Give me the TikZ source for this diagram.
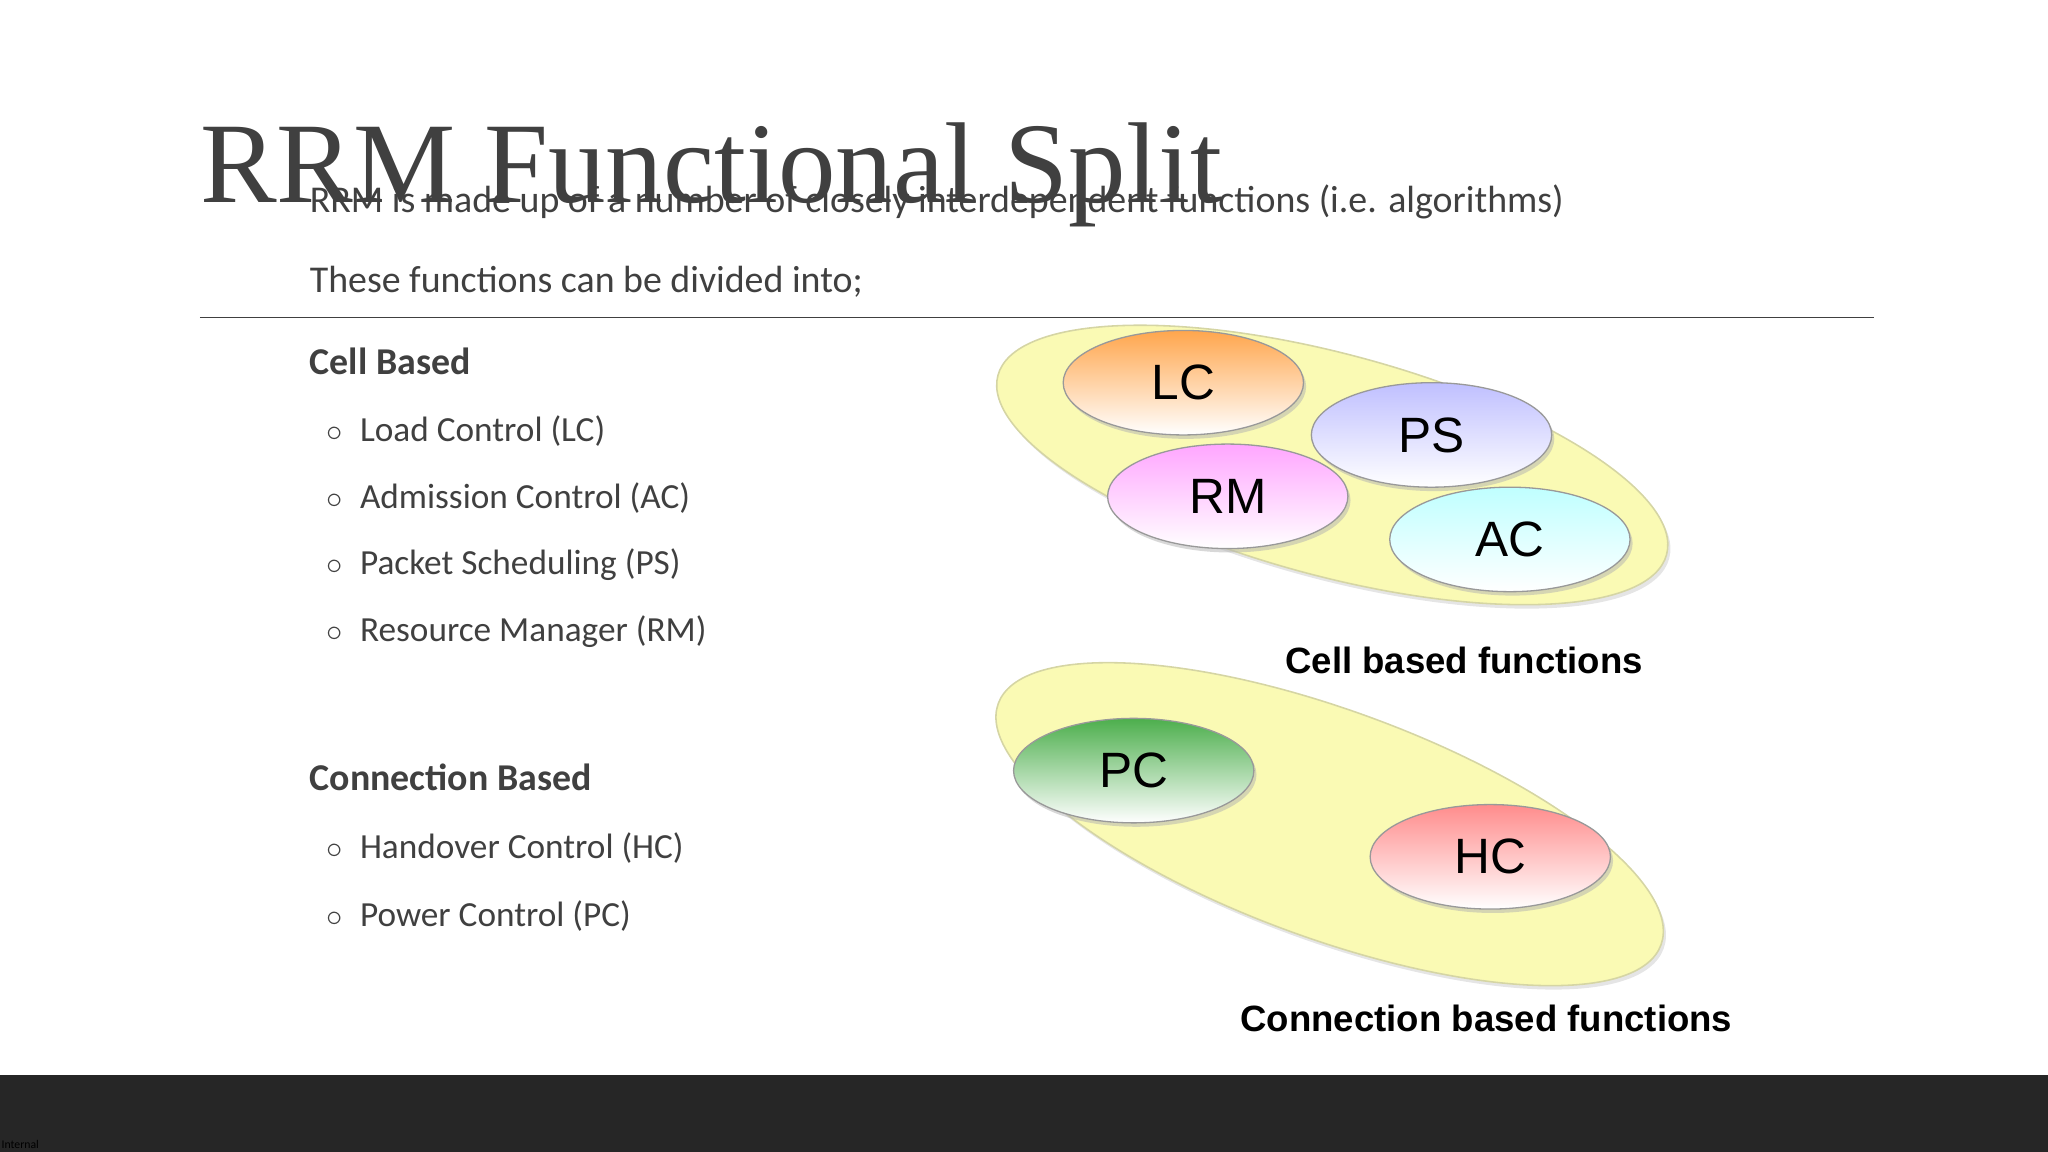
\documentclass[tikz,border=0pt]{standalone}
\usepackage{fontspec}
\setmainfont{Carlito}
\newfontfamily\titlefont{Liberation Serif}
\newfontfamily\labelfont{Liberation Sans}
\usetikzlibrary{shapes.geometric,shadows}
\definecolor{bartone}{HTML}{262626}
\definecolor{bodytone}{HTML}{404040}
\definecolor{cellyellow}{HTML}{FAFAB4}
\tikzset{
  body/.style={anchor=base west,text=bodytone,font=\fontsize{27}{30}\selectfont,inner sep=0},
  head/.style={body,font=\fontsize{29}{32}\selectfont\bfseries},
  group/.style={ellipse,fill=cellyellow,draw=cellyellow!70!gray,line width=1.2pt,
    drop shadow={shadow xshift=2pt,shadow yshift=-3pt,fill=gray!40}},
  func/.style={ellipse,minimum width=184pt,minimum height=80pt,draw=gray!80,line width=1pt,
    bottom color=white,font=\labelfont\fontsize{38}{40}\selectfont,
    drop shadow={shadow xshift=2pt,shadow yshift=-3pt,fill=gray!60}},
  caption/.style={font=\labelfont\bfseries\fontsize{28}{30}\selectfont}
}
\begin{document}
\begin{tikzpicture}[x=1pt,y=-1pt]
  \useasboundingbox (0,0) rectangle (1568,882);
  \fill[bartone] (0,823) rectangle (1568,882);
  \node[anchor=base west,inner sep=0,font=\fontsize{9}{10}\selectfont] (internal) at (1,879) {Internal};
  % title and intro
  \node[anchor=base west,inner sep=0,text=bodytone,font=\titlefont\fontsize{88}{92}\selectfont] (title) at (153,155) {RRM Functional Split};
  \node[body,font=\fontsize{29}{32}\selectfont] (intro1) at (237,163) {RRM is made up of a number of closely interdependent functions (i.e. algorithms)};
  \node[body,font=\fontsize{29}{32}\selectfont] (intro2) at (237,224) {These functions can be divided into;};
  \draw[line width=1.2pt,bodytone] (153,243) -- (1435,243);
  % lists
  \node[head] (cellhead) at (237,287) {Cell Based};
  \foreach \t [count=\i] in {Load Control (LC),Admission Control (AC),Packet Scheduling (PS),Resource Manager (RM)}
    \node[body] (cell\i) at (250,{287+51*\i}) {$\circ$\hspace{13pt}\t};
  \node[head] (connhead) at (237,605) {Connection Based};
  \foreach \t [count=\i] in {Handover Control (HC),Power Control (PC)}
    \node[body] (conn\i) at (250,{605+52*\i}) {$\circ$\hspace{13pt}\t};
  % cell based group
  \node[group,minimum width=530pt,minimum height=170pt,rotate=-15] (cellgrp) at (1020,356) {};
  \node[func,top color=orange!70] (LC) at (906,293) {LC};
  \node[func,top color=blue!25] (PS) at (1096,333) {PS};
  \node[func,top color=magenta!35] (RM) at (940,380) {RM};
  \node[func,top color=cyan!25] (AC) at (1156,413) {AC};
  \node[caption] (cellcap) at (1121,506) {Cell based functions};
  % connection based group
  \node[group,minimum width=540pt,minimum height=175pt,rotate=-20] (conngrp) at (1018,631) {};
  \node[func,top color=green!55!black!70] (PC) at (868,590) {PC};
  \node[func,top color=red!45] (HC) at (1141,656) {HC};
  \node[caption] (conncap) at (1138,780) {Connection based functions};
\end{tikzpicture}
\end{document}
